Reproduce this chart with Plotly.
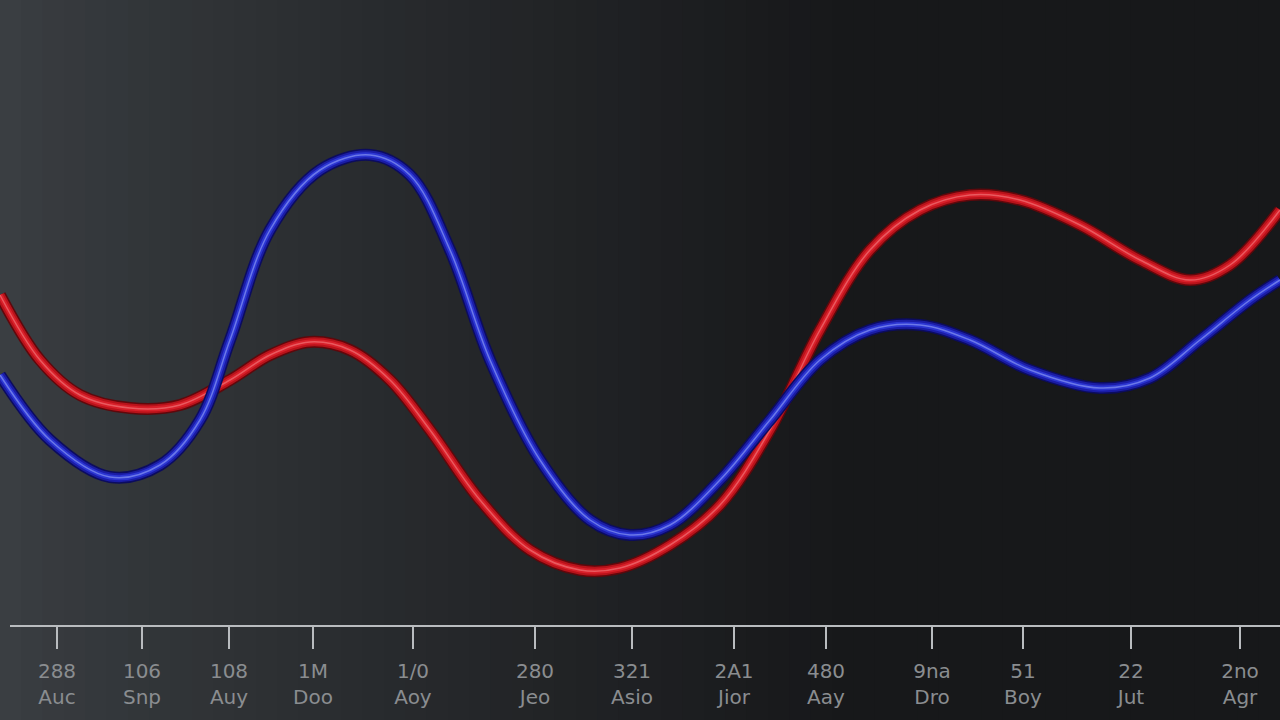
import plotly.graph_objects as go

# ---- data (x in chart units 0..1280, y in chart units 0..720 upward) ----
blue_x = [0, 50, 110, 160, 200, 230, 270, 320, 370, 410, 450, 490, 540, 590, 630, 670, 720, 770, 820, 870, 920, 970, 1030, 1100, 1150, 1200, 1250, 1280]
blue_y_px = [375, 440, 477, 465, 420, 340, 230, 170, 155, 175, 250, 360, 460, 520, 535, 525, 480, 420, 360, 330, 325, 340, 370, 388, 378, 340, 300, 280]

red_x = [0, 40, 80, 130, 180, 230, 270, 310, 350, 390, 430, 480, 530, 580, 620, 670, 720, 770, 820, 870, 920, 970, 1020, 1080, 1140, 1190, 1230, 1280]
red_y_px = [295, 360, 395, 408, 405, 380, 355, 342, 350, 380, 430, 500, 550, 570, 568, 545, 505, 430, 330, 250, 210, 195, 200, 225, 260, 280, 265, 210]

tick_vals = [57, 142, 229, 313, 413, 535, 632, 734, 826, 932, 1023, 1131, 1240]
tick_text = ["288<br>Auc", "106<br>Snp", "108<br>Auy", "1M<br>Doo", "1/0<br>Aoy", "280<br>Jeo",
             "321<br>Asio", "2A1<br>Jior", "480<br>Aay", "9na<br>Dro", "51<br>Boy", "22<br>Jut", "2no<br>Agr"]

H = 720
blue_y = [H - v for v in blue_y_px]
red_y = [H - v for v in red_y_px]

fig = go.Figure()

# background gradient (style only)
n = 60
for i in range(n):
    t = i / (n - 1)
    c0 = (58, 62, 66)
    c1 = (23, 24, 26)
    f = min(1.0, t * 1.5) ** 0.85
    col = tuple(int(c0[k] + (c1[k] - c0[k]) * f) for k in range(3))
    fig.add_shape(type="rect", xref="paper", yref="paper", x0=i / n, x1=(i + 1) / n + 0.002, y0=0, y1=1,
                  fillcolor="rgb(%d,%d,%d)" % col, line=dict(width=0), layer="below")

def tube(x, y, cols, widths):
    for c, w in zip(cols, widths):
        fig.add_trace(go.Scatter(x=x, y=y, mode="lines", line=dict(color=c, width=w, shape="spline", smoothing=1.0),
                                 hoverinfo="skip", showlegend=False))

tube(red_x, red_y, ["#5e080c", "#b8121a", "#d8202a", "rgba(255,160,160,0.45)"], [12, 9, 5, 1.5])
tube(blue_x, blue_y, ["#0c0c5e", "#1a1ca6", "#2c36d2", "rgba(170,185,255,0.5)"], [12, 9, 5, 1.5])

# axis trace for xaxis2 (invisible)
fig.add_trace(go.Scatter(x=[tick_vals[0]], y=[H / 2], xaxis="x2", yaxis="y", mode="markers",
                         marker=dict(opacity=0), hoverinfo="skip", showlegend=False))

fig.update_layout(
    width=1280, height=720,
    margin=dict(l=0, r=0, t=0, b=0, autoexpand=False),
    paper_bgcolor="#1c1d1f", plot_bgcolor="rgba(0,0,0,0)",
    xaxis=dict(range=[0, 1280], visible=False, domain=[0, 1]),
    xaxis2=dict(range=[10, 1280], domain=[10 / 1280, 1], anchor="free", position=(H - 626) / H,
                side="bottom", showline=True, linecolor="#b9bcbf", linewidth=2, ticks="outside", ticklen=22,
                tickwidth=2, tickcolor="#b9bcbf", tickvals=tick_vals, ticktext=tick_text, showgrid=False,
                zeroline=False, ticklabelstandoff=5,
                tickfont=dict(family="DejaVu Sans", size=20, color="#8a8d90")),
    yaxis=dict(range=[0, H], visible=False),
)

fig.write_html("out.html", config={"displayModeBar": False},
               post_script="document.body.style.margin='0';document.body.style.overflow='hidden';document.body.style.background='#1c1d1f';")
